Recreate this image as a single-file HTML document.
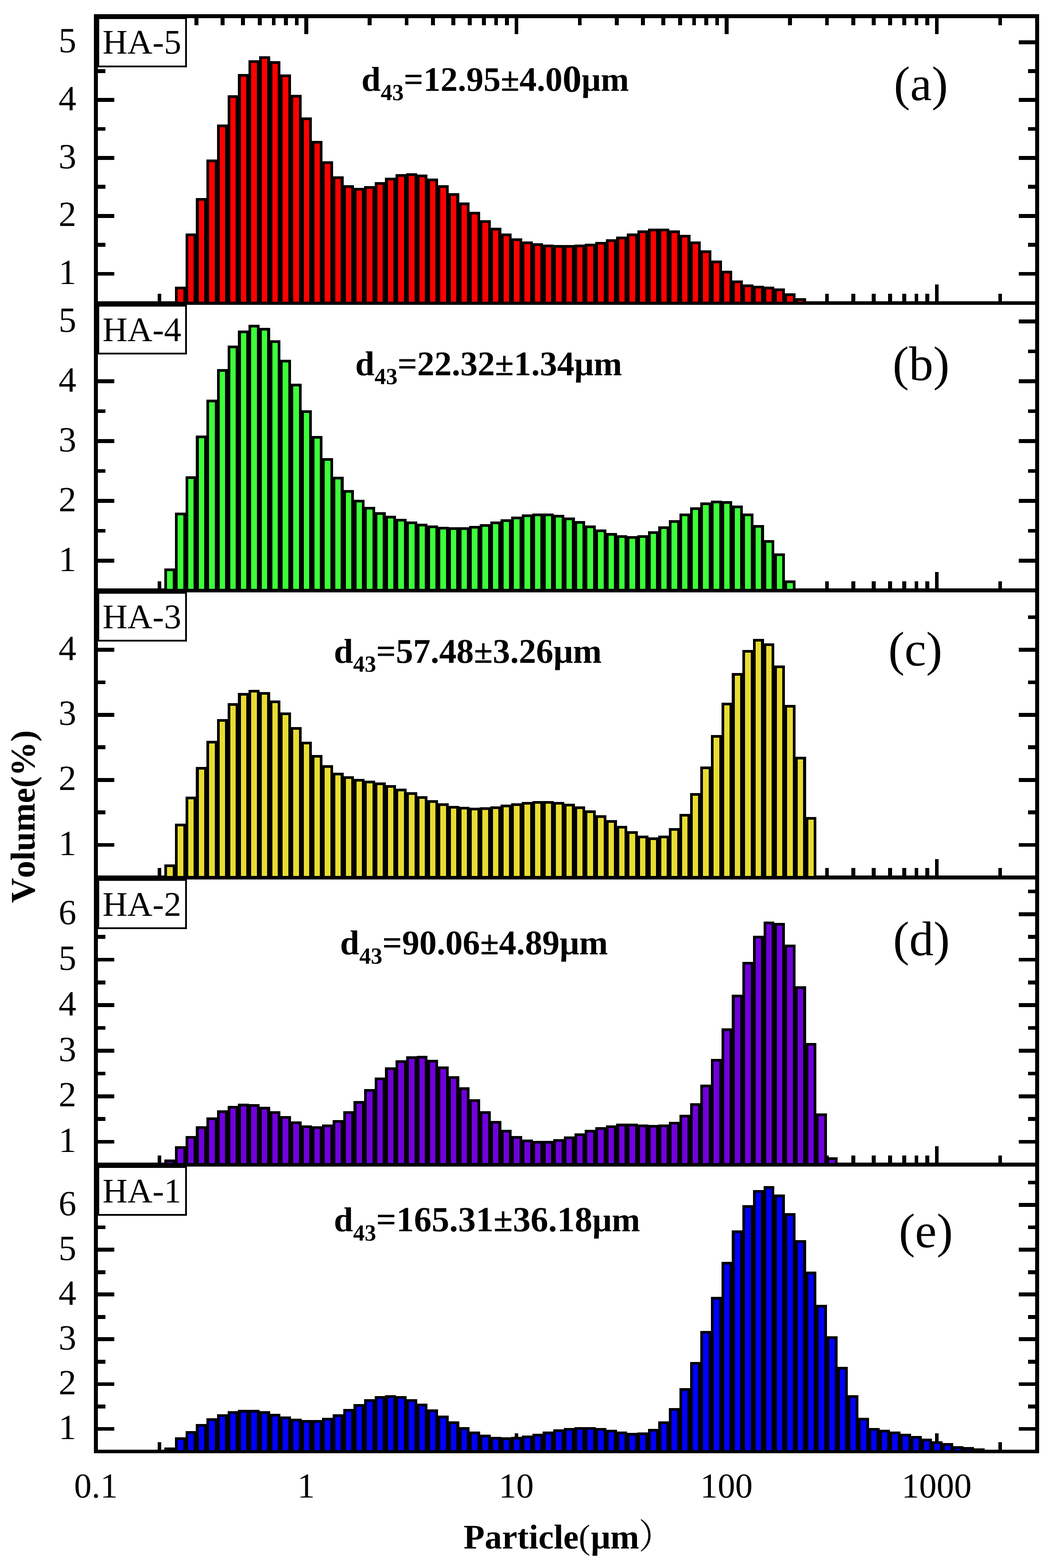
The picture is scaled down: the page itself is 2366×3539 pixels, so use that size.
<!DOCTYPE html>
<html lang="en">
<head>
<meta charset="utf-8">
<title>Particle size distribution</title>
<style>
html,body{margin:0;padding:0;background:#fff;}
body{width:2366px;height:3539px;overflow:hidden;}
svg{display:block;}
</style>
</head>
<body>
<svg width="2366" height="3539" viewBox="0 0 2366 3539" shape-rendering="crispEdges">
<rect x="0" y="0" width="2366" height="3539" fill="#fff"/>
<g id="ticks-behind">
<rect x="356" y="663" width="8" height="18"/>
<rect x="439" y="663" width="9" height="18"/>
<rect x="498" y="663" width="9" height="18"/>
<rect x="544" y="663" width="9" height="18"/>
<rect x="582" y="663" width="9" height="18"/>
<rect x="614" y="663" width="8" height="18"/>
<rect x="641" y="663" width="9" height="18"/>
<rect x="666" y="663" width="8" height="18"/>
<rect x="687" y="642" width="9" height="39"/>
<rect x="830" y="663" width="9" height="18"/>
<rect x="914" y="663" width="8" height="18"/>
<rect x="973" y="663" width="9" height="18"/>
<rect x="1019" y="663" width="9" height="18"/>
<rect x="1056" y="663" width="9" height="18"/>
<rect x="1088" y="663" width="9" height="18"/>
<rect x="1116" y="663" width="8" height="18"/>
<rect x="1140" y="663" width="9" height="18"/>
<rect x="1162" y="642" width="8" height="39"/>
<rect x="1305" y="663" width="8" height="18"/>
<rect x="1388" y="663" width="9" height="18"/>
<rect x="1447" y="663" width="9" height="18"/>
<rect x="1493" y="663" width="9" height="18"/>
<rect x="1531" y="663" width="9" height="18"/>
<rect x="1563" y="663" width="8" height="18"/>
<rect x="1590" y="663" width="9" height="18"/>
<rect x="1615" y="663" width="8" height="18"/>
<rect x="1636" y="642" width="9" height="39"/>
<rect x="1779" y="663" width="9" height="18"/>
<rect x="1863" y="663" width="8" height="18"/>
<rect x="1922" y="663" width="9" height="18"/>
<rect x="1968" y="663" width="9" height="18"/>
<rect x="2005" y="663" width="9" height="18"/>
<rect x="2037" y="663" width="9" height="18"/>
<rect x="2065" y="663" width="8" height="18"/>
<rect x="2089" y="663" width="9" height="18"/>
<rect x="2111" y="642" width="8" height="39"/>
<rect x="2254" y="663" width="8" height="18"/>
<rect x="356" y="1312" width="8" height="17"/>
<rect x="439" y="1312" width="9" height="17"/>
<rect x="498" y="1312" width="9" height="17"/>
<rect x="544" y="1312" width="9" height="17"/>
<rect x="582" y="1312" width="9" height="17"/>
<rect x="614" y="1312" width="8" height="17"/>
<rect x="641" y="1312" width="9" height="17"/>
<rect x="666" y="1312" width="8" height="17"/>
<rect x="687" y="1291" width="9" height="38"/>
<rect x="830" y="1312" width="9" height="17"/>
<rect x="914" y="1312" width="8" height="17"/>
<rect x="973" y="1312" width="9" height="17"/>
<rect x="1019" y="1312" width="9" height="17"/>
<rect x="1056" y="1312" width="9" height="17"/>
<rect x="1088" y="1312" width="9" height="17"/>
<rect x="1116" y="1312" width="8" height="17"/>
<rect x="1140" y="1312" width="9" height="17"/>
<rect x="1162" y="1291" width="8" height="38"/>
<rect x="1305" y="1312" width="8" height="17"/>
<rect x="1388" y="1312" width="9" height="17"/>
<rect x="1447" y="1312" width="9" height="17"/>
<rect x="1493" y="1312" width="9" height="17"/>
<rect x="1531" y="1312" width="9" height="17"/>
<rect x="1563" y="1312" width="8" height="17"/>
<rect x="1590" y="1312" width="9" height="17"/>
<rect x="1615" y="1312" width="8" height="17"/>
<rect x="1636" y="1291" width="9" height="38"/>
<rect x="1779" y="1312" width="9" height="17"/>
<rect x="1863" y="1312" width="8" height="17"/>
<rect x="1922" y="1312" width="9" height="17"/>
<rect x="1968" y="1312" width="9" height="17"/>
<rect x="2005" y="1312" width="9" height="17"/>
<rect x="2037" y="1312" width="9" height="17"/>
<rect x="2065" y="1312" width="8" height="17"/>
<rect x="2089" y="1312" width="9" height="17"/>
<rect x="2111" y="1291" width="8" height="38"/>
<rect x="2254" y="1312" width="8" height="17"/>
<rect x="356" y="1959" width="8" height="18"/>
<rect x="439" y="1959" width="9" height="18"/>
<rect x="498" y="1959" width="9" height="18"/>
<rect x="544" y="1959" width="9" height="18"/>
<rect x="582" y="1959" width="9" height="18"/>
<rect x="614" y="1959" width="8" height="18"/>
<rect x="641" y="1959" width="9" height="18"/>
<rect x="666" y="1959" width="8" height="18"/>
<rect x="687" y="1939" width="9" height="38"/>
<rect x="830" y="1959" width="9" height="18"/>
<rect x="914" y="1959" width="8" height="18"/>
<rect x="973" y="1959" width="9" height="18"/>
<rect x="1019" y="1959" width="9" height="18"/>
<rect x="1056" y="1959" width="9" height="18"/>
<rect x="1088" y="1959" width="9" height="18"/>
<rect x="1116" y="1959" width="8" height="18"/>
<rect x="1140" y="1959" width="9" height="18"/>
<rect x="1162" y="1939" width="8" height="38"/>
<rect x="1305" y="1959" width="8" height="18"/>
<rect x="1388" y="1959" width="9" height="18"/>
<rect x="1447" y="1959" width="9" height="18"/>
<rect x="1493" y="1959" width="9" height="18"/>
<rect x="1531" y="1959" width="9" height="18"/>
<rect x="1563" y="1959" width="8" height="18"/>
<rect x="1590" y="1959" width="9" height="18"/>
<rect x="1615" y="1959" width="8" height="18"/>
<rect x="1636" y="1939" width="9" height="38"/>
<rect x="1779" y="1959" width="9" height="18"/>
<rect x="1863" y="1959" width="8" height="18"/>
<rect x="1922" y="1959" width="9" height="18"/>
<rect x="1968" y="1959" width="9" height="18"/>
<rect x="2005" y="1959" width="9" height="18"/>
<rect x="2037" y="1959" width="9" height="18"/>
<rect x="2065" y="1959" width="8" height="18"/>
<rect x="2089" y="1959" width="9" height="18"/>
<rect x="2111" y="1939" width="8" height="38"/>
<rect x="2254" y="1959" width="8" height="18"/>
<rect x="356" y="2608" width="8" height="17"/>
<rect x="439" y="2608" width="9" height="17"/>
<rect x="498" y="2608" width="9" height="17"/>
<rect x="544" y="2608" width="9" height="17"/>
<rect x="582" y="2608" width="9" height="17"/>
<rect x="614" y="2608" width="8" height="17"/>
<rect x="641" y="2608" width="9" height="17"/>
<rect x="666" y="2608" width="8" height="17"/>
<rect x="687" y="2587" width="9" height="38"/>
<rect x="830" y="2608" width="9" height="17"/>
<rect x="914" y="2608" width="8" height="17"/>
<rect x="973" y="2608" width="9" height="17"/>
<rect x="1019" y="2608" width="9" height="17"/>
<rect x="1056" y="2608" width="9" height="17"/>
<rect x="1088" y="2608" width="9" height="17"/>
<rect x="1116" y="2608" width="8" height="17"/>
<rect x="1140" y="2608" width="9" height="17"/>
<rect x="1162" y="2587" width="8" height="38"/>
<rect x="1305" y="2608" width="8" height="17"/>
<rect x="1388" y="2608" width="9" height="17"/>
<rect x="1447" y="2608" width="9" height="17"/>
<rect x="1493" y="2608" width="9" height="17"/>
<rect x="1531" y="2608" width="9" height="17"/>
<rect x="1563" y="2608" width="8" height="17"/>
<rect x="1590" y="2608" width="9" height="17"/>
<rect x="1615" y="2608" width="8" height="17"/>
<rect x="1636" y="2587" width="9" height="38"/>
<rect x="1779" y="2608" width="9" height="17"/>
<rect x="1863" y="2608" width="8" height="17"/>
<rect x="1922" y="2608" width="9" height="17"/>
<rect x="1968" y="2608" width="9" height="17"/>
<rect x="2005" y="2608" width="9" height="17"/>
<rect x="2037" y="2608" width="9" height="17"/>
<rect x="2065" y="2608" width="8" height="17"/>
<rect x="2089" y="2608" width="9" height="17"/>
<rect x="2111" y="2587" width="8" height="38"/>
<rect x="2254" y="2608" width="8" height="17"/>
<rect x="356" y="3255" width="8" height="18"/>
<rect x="439" y="3255" width="9" height="18"/>
<rect x="498" y="3255" width="9" height="18"/>
<rect x="544" y="3255" width="9" height="18"/>
<rect x="582" y="3255" width="9" height="18"/>
<rect x="614" y="3255" width="8" height="18"/>
<rect x="641" y="3255" width="9" height="18"/>
<rect x="666" y="3255" width="8" height="18"/>
<rect x="687" y="3235" width="9" height="38"/>
<rect x="830" y="3255" width="9" height="18"/>
<rect x="914" y="3255" width="8" height="18"/>
<rect x="973" y="3255" width="9" height="18"/>
<rect x="1019" y="3255" width="9" height="18"/>
<rect x="1056" y="3255" width="9" height="18"/>
<rect x="1088" y="3255" width="9" height="18"/>
<rect x="1116" y="3255" width="8" height="18"/>
<rect x="1140" y="3255" width="9" height="18"/>
<rect x="1162" y="3235" width="8" height="38"/>
<rect x="1305" y="3255" width="8" height="18"/>
<rect x="1388" y="3255" width="9" height="18"/>
<rect x="1447" y="3255" width="9" height="18"/>
<rect x="1493" y="3255" width="9" height="18"/>
<rect x="1531" y="3255" width="9" height="18"/>
<rect x="1563" y="3255" width="8" height="18"/>
<rect x="1590" y="3255" width="9" height="18"/>
<rect x="1615" y="3255" width="8" height="18"/>
<rect x="1636" y="3235" width="9" height="38"/>
<rect x="1779" y="3255" width="9" height="18"/>
<rect x="1863" y="3255" width="8" height="18"/>
<rect x="1922" y="3255" width="9" height="18"/>
<rect x="1968" y="3255" width="9" height="18"/>
<rect x="2005" y="3255" width="9" height="18"/>
<rect x="2037" y="3255" width="9" height="18"/>
<rect x="2065" y="3255" width="8" height="18"/>
<rect x="2089" y="3255" width="9" height="18"/>
<rect x="2111" y="3235" width="8" height="38"/>
<rect x="2254" y="3255" width="8" height="18"/>
</g>
<g id="bars">
<g class="b">
<rect x="395" y="647" width="25" height="34"/>
<rect x="419" y="527" width="25" height="154"/>
<rect x="442" y="447" width="25" height="234"/>
<rect x="466" y="360" width="25" height="321"/>
<rect x="490" y="281" width="25" height="400"/>
<rect x="514" y="215" width="24" height="466"/>
<rect x="537" y="167" width="25" height="514"/>
<rect x="561" y="136" width="25" height="545"/>
<rect x="585" y="127" width="25" height="554"/>
<rect x="609" y="138" width="24" height="543"/>
<rect x="632" y="168" width="25" height="513"/>
<rect x="656" y="214" width="25" height="467"/>
<rect x="680" y="265" width="24" height="416"/>
<rect x="703" y="318" width="25" height="363"/>
<rect x="727" y="364" width="25" height="317"/>
<rect x="751" y="398" width="25" height="283"/>
<rect x="775" y="418" width="24" height="263"/>
<rect x="798" y="424" width="25" height="257"/>
<rect x="822" y="420" width="25" height="261"/>
<rect x="846" y="411" width="25" height="270"/>
<rect x="869" y="401" width="25" height="280"/>
<rect x="893" y="393" width="25" height="288"/>
<rect x="917" y="391" width="25" height="290"/>
<rect x="941" y="394" width="24" height="287"/>
<rect x="964" y="403" width="25" height="278"/>
<rect x="988" y="418" width="25" height="263"/>
<rect x="1012" y="436" width="25" height="245"/>
<rect x="1036" y="457" width="24" height="224"/>
<rect x="1059" y="478" width="25" height="203"/>
<rect x="1083" y="497" width="25" height="184"/>
<rect x="1107" y="514" width="25" height="167"/>
<rect x="1130" y="527" width="25" height="154"/>
<rect x="1154" y="538" width="25" height="143"/>
<rect x="1178" y="545" width="25" height="136"/>
<rect x="1202" y="549" width="24" height="132"/>
<rect x="1225" y="552" width="25" height="129"/>
<rect x="1249" y="553" width="25" height="128"/>
<rect x="1273" y="553" width="25" height="128"/>
<rect x="1297" y="552" width="24" height="129"/>
<rect x="1320" y="550" width="25" height="131"/>
<rect x="1344" y="546" width="25" height="135"/>
<rect x="1368" y="540" width="25" height="141"/>
<rect x="1391" y="534" width="25" height="147"/>
<rect x="1415" y="527" width="25" height="154"/>
<rect x="1439" y="520" width="25" height="161"/>
<rect x="1463" y="516" width="24" height="165"/>
<rect x="1486" y="516" width="25" height="165"/>
<rect x="1510" y="520" width="25" height="161"/>
<rect x="1534" y="530" width="25" height="151"/>
<rect x="1558" y="545" width="24" height="136"/>
<rect x="1581" y="565" width="25" height="116"/>
<rect x="1605" y="588" width="25" height="93"/>
<rect x="1629" y="611" width="24" height="70"/>
<rect x="1652" y="633" width="25" height="48"/>
<rect x="1676" y="642" width="25" height="39"/>
<rect x="1700" y="645" width="25" height="36"/>
<rect x="1724" y="647" width="24" height="34"/>
<rect x="1747" y="651" width="25" height="30"/>
<rect x="1771" y="662" width="25" height="19"/>
<rect x="1795" y="673" width="25" height="8"/>
</g>
<g class="b">
<rect x="371" y="1283" width="25" height="46"/>
<rect x="395" y="1157" width="25" height="172"/>
<rect x="419" y="1075" width="25" height="254"/>
<rect x="442" y="983" width="25" height="346"/>
<rect x="466" y="902" width="25" height="427"/>
<rect x="490" y="833" width="25" height="496"/>
<rect x="514" y="780" width="24" height="549"/>
<rect x="537" y="746" width="25" height="583"/>
<rect x="561" y="733" width="25" height="596"/>
<rect x="585" y="740" width="25" height="589"/>
<rect x="609" y="768" width="24" height="561"/>
<rect x="632" y="812" width="25" height="517"/>
<rect x="656" y="866" width="25" height="463"/>
<rect x="680" y="926" width="24" height="403"/>
<rect x="703" y="984" width="25" height="345"/>
<rect x="727" y="1034" width="25" height="295"/>
<rect x="751" y="1076" width="25" height="253"/>
<rect x="775" y="1106" width="24" height="223"/>
<rect x="798" y="1128" width="25" height="201"/>
<rect x="822" y="1144" width="25" height="185"/>
<rect x="846" y="1156" width="25" height="173"/>
<rect x="869" y="1164" width="25" height="165"/>
<rect x="893" y="1171" width="25" height="158"/>
<rect x="917" y="1177" width="25" height="152"/>
<rect x="941" y="1182" width="24" height="147"/>
<rect x="964" y="1186" width="25" height="143"/>
<rect x="988" y="1189" width="25" height="140"/>
<rect x="1012" y="1190" width="25" height="139"/>
<rect x="1036" y="1190" width="24" height="139"/>
<rect x="1059" y="1187" width="25" height="142"/>
<rect x="1083" y="1183" width="25" height="146"/>
<rect x="1107" y="1177" width="25" height="152"/>
<rect x="1130" y="1172" width="25" height="157"/>
<rect x="1154" y="1166" width="25" height="163"/>
<rect x="1178" y="1161" width="25" height="168"/>
<rect x="1202" y="1159" width="24" height="170"/>
<rect x="1225" y="1159" width="25" height="170"/>
<rect x="1249" y="1162" width="25" height="167"/>
<rect x="1273" y="1168" width="25" height="161"/>
<rect x="1297" y="1176" width="24" height="153"/>
<rect x="1320" y="1186" width="25" height="143"/>
<rect x="1344" y="1195" width="25" height="134"/>
<rect x="1368" y="1203" width="25" height="126"/>
<rect x="1391" y="1208" width="25" height="121"/>
<rect x="1415" y="1210" width="25" height="119"/>
<rect x="1439" y="1208" width="25" height="121"/>
<rect x="1463" y="1199" width="24" height="130"/>
<rect x="1486" y="1188" width="25" height="141"/>
<rect x="1510" y="1174" width="25" height="155"/>
<rect x="1534" y="1159" width="25" height="170"/>
<rect x="1558" y="1145" width="24" height="184"/>
<rect x="1581" y="1134" width="25" height="195"/>
<rect x="1605" y="1130" width="25" height="199"/>
<rect x="1629" y="1131" width="24" height="198"/>
<rect x="1652" y="1141" width="25" height="188"/>
<rect x="1676" y="1159" width="25" height="170"/>
<rect x="1700" y="1185" width="25" height="144"/>
<rect x="1724" y="1219" width="24" height="110"/>
<rect x="1747" y="1249" width="25" height="80"/>
<rect x="1771" y="1310" width="25" height="19"/>
</g>
<g class="b">
<rect x="371" y="1951" width="25" height="26"/>
<rect x="395" y="1859" width="25" height="118"/>
<rect x="419" y="1798" width="25" height="179"/>
<rect x="442" y="1731" width="25" height="246"/>
<rect x="466" y="1672" width="25" height="305"/>
<rect x="490" y="1623" width="25" height="354"/>
<rect x="514" y="1587" width="24" height="390"/>
<rect x="537" y="1564" width="25" height="413"/>
<rect x="561" y="1557" width="25" height="420"/>
<rect x="585" y="1562" width="25" height="415"/>
<rect x="609" y="1581" width="24" height="396"/>
<rect x="632" y="1608" width="25" height="369"/>
<rect x="656" y="1641" width="25" height="336"/>
<rect x="680" y="1674" width="24" height="303"/>
<rect x="703" y="1704" width="25" height="273"/>
<rect x="727" y="1727" width="25" height="250"/>
<rect x="751" y="1744" width="25" height="233"/>
<rect x="775" y="1752" width="24" height="225"/>
<rect x="798" y="1758" width="25" height="219"/>
<rect x="822" y="1762" width="25" height="215"/>
<rect x="846" y="1766" width="25" height="211"/>
<rect x="869" y="1772" width="25" height="205"/>
<rect x="893" y="1780" width="25" height="197"/>
<rect x="917" y="1788" width="25" height="189"/>
<rect x="941" y="1797" width="24" height="180"/>
<rect x="964" y="1806" width="25" height="171"/>
<rect x="988" y="1813" width="25" height="164"/>
<rect x="1012" y="1819" width="25" height="158"/>
<rect x="1036" y="1821" width="24" height="156"/>
<rect x="1059" y="1823" width="25" height="154"/>
<rect x="1083" y="1822" width="25" height="155"/>
<rect x="1107" y="1820" width="25" height="157"/>
<rect x="1130" y="1816" width="25" height="161"/>
<rect x="1154" y="1813" width="25" height="164"/>
<rect x="1178" y="1810" width="25" height="167"/>
<rect x="1202" y="1808" width="24" height="169"/>
<rect x="1225" y="1808" width="25" height="169"/>
<rect x="1249" y="1810" width="25" height="167"/>
<rect x="1273" y="1814" width="25" height="163"/>
<rect x="1297" y="1820" width="24" height="157"/>
<rect x="1320" y="1829" width="25" height="148"/>
<rect x="1344" y="1840" width="25" height="137"/>
<rect x="1368" y="1851" width="25" height="126"/>
<rect x="1391" y="1864" width="25" height="113"/>
<rect x="1415" y="1876" width="25" height="101"/>
<rect x="1439" y="1886" width="25" height="91"/>
<rect x="1463" y="1890" width="24" height="87"/>
<rect x="1486" y="1886" width="25" height="91"/>
<rect x="1510" y="1869" width="25" height="108"/>
<rect x="1534" y="1837" width="25" height="140"/>
<rect x="1558" y="1790" width="24" height="187"/>
<rect x="1581" y="1730" width="25" height="247"/>
<rect x="1605" y="1659" width="25" height="318"/>
<rect x="1629" y="1586" width="24" height="391"/>
<rect x="1652" y="1519" width="25" height="458"/>
<rect x="1676" y="1467" width="25" height="510"/>
<rect x="1700" y="1442" width="25" height="535"/>
<rect x="1724" y="1452" width="24" height="525"/>
<rect x="1747" y="1502" width="25" height="475"/>
<rect x="1771" y="1591" width="25" height="386"/>
<rect x="1795" y="1708" width="25" height="269"/>
<rect x="1818" y="1844" width="25" height="133"/>
</g>
<g class="b">
<rect x="371" y="2617" width="25" height="8"/>
<rect x="395" y="2587" width="25" height="38"/>
<rect x="419" y="2564" width="25" height="61"/>
<rect x="442" y="2542" width="25" height="83"/>
<rect x="466" y="2522" width="25" height="103"/>
<rect x="490" y="2506" width="25" height="119"/>
<rect x="514" y="2496" width="24" height="129"/>
<rect x="537" y="2491" width="25" height="134"/>
<rect x="561" y="2492" width="25" height="133"/>
<rect x="585" y="2498" width="25" height="127"/>
<rect x="609" y="2508" width="24" height="117"/>
<rect x="632" y="2519" width="25" height="106"/>
<rect x="656" y="2531" width="25" height="94"/>
<rect x="680" y="2540" width="24" height="85"/>
<rect x="703" y="2542" width="25" height="83"/>
<rect x="727" y="2538" width="25" height="87"/>
<rect x="751" y="2528" width="25" height="97"/>
<rect x="775" y="2508" width="24" height="117"/>
<rect x="798" y="2485" width="25" height="140"/>
<rect x="822" y="2458" width="25" height="167"/>
<rect x="846" y="2432" width="25" height="193"/>
<rect x="869" y="2409" width="25" height="216"/>
<rect x="893" y="2393" width="25" height="232"/>
<rect x="917" y="2384" width="25" height="241"/>
<rect x="941" y="2383" width="24" height="242"/>
<rect x="964" y="2392" width="25" height="233"/>
<rect x="988" y="2407" width="25" height="218"/>
<rect x="1012" y="2429" width="25" height="196"/>
<rect x="1036" y="2454" width="24" height="171"/>
<rect x="1059" y="2481" width="25" height="144"/>
<rect x="1083" y="2508" width="25" height="117"/>
<rect x="1107" y="2530" width="25" height="95"/>
<rect x="1130" y="2550" width="25" height="75"/>
<rect x="1154" y="2564" width="25" height="61"/>
<rect x="1178" y="2572" width="25" height="53"/>
<rect x="1202" y="2575" width="24" height="50"/>
<rect x="1225" y="2575" width="25" height="50"/>
<rect x="1249" y="2571" width="25" height="54"/>
<rect x="1273" y="2565" width="25" height="60"/>
<rect x="1297" y="2558" width="24" height="67"/>
<rect x="1320" y="2550" width="25" height="75"/>
<rect x="1344" y="2544" width="25" height="81"/>
<rect x="1368" y="2540" width="25" height="85"/>
<rect x="1391" y="2536" width="25" height="89"/>
<rect x="1415" y="2536" width="25" height="89"/>
<rect x="1439" y="2538" width="25" height="87"/>
<rect x="1463" y="2539" width="24" height="86"/>
<rect x="1486" y="2538" width="25" height="87"/>
<rect x="1510" y="2532" width="25" height="93"/>
<rect x="1534" y="2516" width="25" height="109"/>
<rect x="1558" y="2490" width="24" height="135"/>
<rect x="1581" y="2448" width="25" height="177"/>
<rect x="1605" y="2390" width="25" height="235"/>
<rect x="1629" y="2321" width="24" height="304"/>
<rect x="1652" y="2245" width="25" height="380"/>
<rect x="1676" y="2171" width="25" height="454"/>
<rect x="1700" y="2112" width="25" height="513"/>
<rect x="1724" y="2080" width="24" height="545"/>
<rect x="1747" y="2083" width="25" height="542"/>
<rect x="1771" y="2132" width="25" height="493"/>
<rect x="1795" y="2226" width="25" height="399"/>
<rect x="1818" y="2354" width="25" height="271"/>
<rect x="1842" y="2513" width="25" height="112"/>
<rect x="1866" y="2612" width="25" height="13"/>
</g>
<g class="b">
<rect x="371" y="3267" width="25" height="6"/>
<rect x="395" y="3244" width="25" height="29"/>
<rect x="419" y="3230" width="25" height="43"/>
<rect x="442" y="3214" width="25" height="59"/>
<rect x="466" y="3201" width="25" height="72"/>
<rect x="490" y="3192" width="25" height="81"/>
<rect x="514" y="3185" width="24" height="88"/>
<rect x="537" y="3182" width="25" height="91"/>
<rect x="561" y="3182" width="25" height="91"/>
<rect x="585" y="3185" width="25" height="88"/>
<rect x="609" y="3191" width="24" height="82"/>
<rect x="632" y="3197" width="25" height="76"/>
<rect x="656" y="3202" width="25" height="71"/>
<rect x="680" y="3205" width="24" height="68"/>
<rect x="703" y="3205" width="25" height="68"/>
<rect x="727" y="3200" width="25" height="73"/>
<rect x="751" y="3192" width="25" height="81"/>
<rect x="775" y="3180" width="24" height="93"/>
<rect x="798" y="3169" width="25" height="104"/>
<rect x="822" y="3158" width="25" height="115"/>
<rect x="846" y="3151" width="25" height="122"/>
<rect x="869" y="3149" width="25" height="124"/>
<rect x="893" y="3151" width="25" height="122"/>
<rect x="917" y="3158" width="25" height="115"/>
<rect x="941" y="3168" width="24" height="105"/>
<rect x="964" y="3181" width="25" height="92"/>
<rect x="988" y="3195" width="25" height="78"/>
<rect x="1012" y="3208" width="25" height="65"/>
<rect x="1036" y="3221" width="24" height="52"/>
<rect x="1059" y="3231" width="25" height="42"/>
<rect x="1083" y="3238" width="25" height="35"/>
<rect x="1107" y="3243" width="25" height="30"/>
<rect x="1130" y="3244" width="25" height="29"/>
<rect x="1154" y="3243" width="25" height="30"/>
<rect x="1178" y="3240" width="25" height="33"/>
<rect x="1202" y="3236" width="24" height="37"/>
<rect x="1225" y="3231" width="25" height="42"/>
<rect x="1249" y="3226" width="25" height="47"/>
<rect x="1273" y="3223" width="25" height="50"/>
<rect x="1297" y="3221" width="24" height="52"/>
<rect x="1320" y="3221" width="25" height="52"/>
<rect x="1344" y="3223" width="25" height="50"/>
<rect x="1368" y="3227" width="25" height="46"/>
<rect x="1391" y="3231" width="25" height="42"/>
<rect x="1415" y="3234" width="25" height="39"/>
<rect x="1439" y="3233" width="25" height="40"/>
<rect x="1463" y="3225" width="24" height="48"/>
<rect x="1486" y="3208" width="25" height="65"/>
<rect x="1510" y="3178" width="25" height="95"/>
<rect x="1534" y="3133" width="25" height="140"/>
<rect x="1558" y="3074" width="24" height="199"/>
<rect x="1581" y="3004" width="25" height="269"/>
<rect x="1605" y="2927" width="25" height="346"/>
<rect x="1629" y="2848" width="24" height="425"/>
<rect x="1652" y="2777" width="25" height="496"/>
<rect x="1676" y="2720" width="25" height="553"/>
<rect x="1700" y="2686" width="25" height="587"/>
<rect x="1724" y="2677" width="24" height="596"/>
<rect x="1747" y="2696" width="25" height="577"/>
<rect x="1771" y="2738" width="25" height="535"/>
<rect x="1795" y="2799" width="25" height="474"/>
<rect x="1818" y="2870" width="25" height="403"/>
<rect x="1842" y="2945" width="25" height="328"/>
<rect x="1866" y="3016" width="25" height="257"/>
<rect x="1890" y="3085" width="24" height="188"/>
<rect x="1913" y="3149" width="25" height="124"/>
<rect x="1937" y="3200" width="25" height="73"/>
<rect x="1961" y="3223" width="25" height="50"/>
<rect x="1985" y="3227" width="24" height="46"/>
<rect x="2008" y="3231" width="25" height="42"/>
<rect x="2032" y="3236" width="25" height="37"/>
<rect x="2056" y="3241" width="25" height="32"/>
<rect x="2079" y="3247" width="25" height="26"/>
<rect x="2103" y="3253" width="25" height="20"/>
<rect x="2127" y="3257" width="25" height="16"/>
<rect x="2151" y="3264" width="24" height="9"/>
<rect x="2174" y="3266" width="25" height="7"/>
<rect x="2198" y="3269" width="25" height="4"/>
</g>
</g>
<g id="axes">
<rect x="212" y="32" width="9" height="3248"/>
<rect x="2337" y="32" width="9" height="3248"/>
<rect x="212" y="32" width="2134" height="9"/>
<rect x="212" y="680" width="2134" height="8"/>
<rect x="212" y="1328" width="2134" height="9"/>
<rect x="212" y="1976" width="2134" height="9"/>
<rect x="212" y="2624" width="2134" height="9"/>
<rect x="212" y="3272" width="2134" height="8"/>
<rect x="221" y="614" width="37" height="8"/>
<rect x="2300" y="614" width="37" height="8"/>
<rect x="221" y="548" width="17" height="9"/>
<rect x="2321" y="548" width="16" height="9"/>
<rect x="221" y="483" width="37" height="9"/>
<rect x="2300" y="483" width="37" height="9"/>
<rect x="221" y="417" width="17" height="9"/>
<rect x="2321" y="417" width="16" height="9"/>
<rect x="221" y="352" width="37" height="9"/>
<rect x="2300" y="352" width="37" height="9"/>
<rect x="221" y="287" width="17" height="8"/>
<rect x="2321" y="287" width="16" height="8"/>
<rect x="221" y="221" width="37" height="9"/>
<rect x="2300" y="221" width="37" height="9"/>
<rect x="221" y="156" width="17" height="9"/>
<rect x="2321" y="156" width="16" height="9"/>
<rect x="221" y="91" width="37" height="9"/>
<rect x="2300" y="91" width="37" height="9"/>
<rect x="221" y="1261" width="37" height="9"/>
<rect x="2300" y="1261" width="37" height="9"/>
<rect x="221" y="1194" width="17" height="8"/>
<rect x="2321" y="1194" width="16" height="8"/>
<rect x="221" y="1126" width="37" height="9"/>
<rect x="2300" y="1126" width="37" height="9"/>
<rect x="221" y="1059" width="17" height="8"/>
<rect x="2321" y="1059" width="16" height="8"/>
<rect x="221" y="991" width="37" height="9"/>
<rect x="2300" y="991" width="37" height="9"/>
<rect x="221" y="924" width="17" height="8"/>
<rect x="2321" y="924" width="16" height="8"/>
<rect x="221" y="856" width="37" height="9"/>
<rect x="2300" y="856" width="37" height="9"/>
<rect x="221" y="789" width="17" height="8"/>
<rect x="2321" y="789" width="16" height="8"/>
<rect x="221" y="721" width="37" height="9"/>
<rect x="2300" y="721" width="37" height="9"/>
<rect x="221" y="1903" width="37" height="8"/>
<rect x="2300" y="1903" width="37" height="8"/>
<rect x="221" y="1829" width="17" height="9"/>
<rect x="2321" y="1829" width="16" height="9"/>
<rect x="221" y="1756" width="37" height="9"/>
<rect x="2300" y="1756" width="37" height="9"/>
<rect x="221" y="1682" width="17" height="9"/>
<rect x="2321" y="1682" width="16" height="9"/>
<rect x="221" y="1609" width="37" height="9"/>
<rect x="2300" y="1609" width="37" height="9"/>
<rect x="221" y="1536" width="17" height="8"/>
<rect x="2321" y="1536" width="16" height="8"/>
<rect x="221" y="1462" width="37" height="9"/>
<rect x="2300" y="1462" width="37" height="9"/>
<rect x="221" y="1389" width="17" height="8"/>
<rect x="2321" y="1389" width="16" height="8"/>
<rect x="221" y="2573" width="37" height="8"/>
<rect x="2300" y="2573" width="37" height="8"/>
<rect x="221" y="2521" width="17" height="9"/>
<rect x="2321" y="2521" width="16" height="9"/>
<rect x="221" y="2470" width="37" height="9"/>
<rect x="2300" y="2470" width="37" height="9"/>
<rect x="221" y="2419" width="17" height="8"/>
<rect x="2321" y="2419" width="16" height="8"/>
<rect x="221" y="2367" width="37" height="9"/>
<rect x="2300" y="2367" width="37" height="9"/>
<rect x="221" y="2316" width="17" height="8"/>
<rect x="2321" y="2316" width="16" height="8"/>
<rect x="221" y="2264" width="37" height="9"/>
<rect x="2300" y="2264" width="37" height="9"/>
<rect x="221" y="2213" width="17" height="9"/>
<rect x="2321" y="2213" width="16" height="9"/>
<rect x="221" y="2162" width="37" height="8"/>
<rect x="2300" y="2162" width="37" height="8"/>
<rect x="221" y="2110" width="17" height="9"/>
<rect x="2321" y="2110" width="16" height="9"/>
<rect x="221" y="2059" width="37" height="9"/>
<rect x="2300" y="2059" width="37" height="9"/>
<rect x="221" y="2008" width="17" height="8"/>
<rect x="2321" y="2008" width="16" height="8"/>
<rect x="221" y="3221" width="37" height="8"/>
<rect x="2300" y="3221" width="37" height="8"/>
<rect x="221" y="3170" width="17" height="9"/>
<rect x="2321" y="3170" width="16" height="9"/>
<rect x="221" y="3120" width="37" height="8"/>
<rect x="2300" y="3120" width="37" height="8"/>
<rect x="221" y="3069" width="17" height="9"/>
<rect x="2321" y="3069" width="16" height="9"/>
<rect x="221" y="3018" width="37" height="9"/>
<rect x="2300" y="3018" width="37" height="9"/>
<rect x="221" y="2968" width="17" height="9"/>
<rect x="2321" y="2968" width="16" height="9"/>
<rect x="221" y="2917" width="37" height="9"/>
<rect x="2300" y="2917" width="37" height="9"/>
<rect x="221" y="2867" width="17" height="9"/>
<rect x="2321" y="2867" width="16" height="9"/>
<rect x="221" y="2816" width="37" height="9"/>
<rect x="2300" y="2816" width="37" height="9"/>
<rect x="221" y="2766" width="17" height="8"/>
<rect x="2321" y="2766" width="16" height="8"/>
<rect x="221" y="2715" width="37" height="9"/>
<rect x="2300" y="2715" width="37" height="9"/>
<rect x="221" y="2665" width="17" height="8"/>
<rect x="2321" y="2665" width="16" height="8"/>
<rect x="356" y="41" width="8" height="16"/>
<rect x="439" y="41" width="9" height="16"/>
<rect x="498" y="41" width="9" height="16"/>
<rect x="544" y="41" width="9" height="16"/>
<rect x="582" y="41" width="9" height="16"/>
<rect x="614" y="41" width="8" height="16"/>
<rect x="641" y="41" width="9" height="16"/>
<rect x="666" y="41" width="8" height="16"/>
<rect x="687" y="41" width="9" height="36"/>
<rect x="830" y="41" width="9" height="16"/>
<rect x="914" y="41" width="8" height="16"/>
<rect x="973" y="41" width="9" height="16"/>
<rect x="1019" y="41" width="9" height="16"/>
<rect x="1056" y="41" width="9" height="16"/>
<rect x="1088" y="41" width="9" height="16"/>
<rect x="1116" y="41" width="8" height="16"/>
<rect x="1140" y="41" width="9" height="16"/>
<rect x="1162" y="41" width="8" height="36"/>
<rect x="1305" y="41" width="8" height="16"/>
<rect x="1388" y="41" width="9" height="16"/>
<rect x="1447" y="41" width="9" height="16"/>
<rect x="1493" y="41" width="9" height="16"/>
<rect x="1531" y="41" width="9" height="16"/>
<rect x="1563" y="41" width="8" height="16"/>
<rect x="1590" y="41" width="9" height="16"/>
<rect x="1615" y="41" width="8" height="16"/>
<rect x="1636" y="41" width="9" height="36"/>
<rect x="1779" y="41" width="9" height="16"/>
<rect x="1863" y="41" width="8" height="16"/>
<rect x="1922" y="41" width="9" height="16"/>
<rect x="1968" y="41" width="9" height="16"/>
<rect x="2005" y="41" width="9" height="16"/>
<rect x="2037" y="41" width="9" height="16"/>
<rect x="2065" y="41" width="8" height="16"/>
<rect x="2089" y="41" width="9" height="16"/>
<rect x="2111" y="41" width="8" height="36"/>
<rect x="2254" y="41" width="8" height="16"/>
</g>
<g id="fills">
<g fill="#ff0000">
<rect x="401" y="653" width="13" height="28"/>
<rect x="425" y="533" width="12" height="148"/>
<rect x="449" y="453" width="12" height="228"/>
<rect x="472" y="366" width="13" height="315"/>
<rect x="496" y="287" width="12" height="394"/>
<rect x="520" y="221" width="12" height="460"/>
<rect x="544" y="173" width="12" height="508"/>
<rect x="567" y="142" width="13" height="539"/>
<rect x="591" y="133" width="12" height="548"/>
<rect x="615" y="144" width="12" height="537"/>
<rect x="638" y="174" width="13" height="507"/>
<rect x="662" y="220" width="13" height="461"/>
<rect x="686" y="271" width="12" height="410"/>
<rect x="710" y="324" width="12" height="357"/>
<rect x="733" y="370" width="13" height="311"/>
<rect x="757" y="404" width="12" height="277"/>
<rect x="781" y="424" width="12" height="257"/>
<rect x="805" y="430" width="12" height="251"/>
<rect x="828" y="426" width="13" height="255"/>
<rect x="852" y="417" width="12" height="264"/>
<rect x="876" y="407" width="12" height="274"/>
<rect x="899" y="399" width="13" height="282"/>
<rect x="923" y="397" width="13" height="284"/>
<rect x="947" y="400" width="12" height="281"/>
<rect x="971" y="409" width="12" height="272"/>
<rect x="994" y="424" width="13" height="257"/>
<rect x="1018" y="442" width="12" height="239"/>
<rect x="1042" y="463" width="12" height="218"/>
<rect x="1065" y="484" width="13" height="197"/>
<rect x="1089" y="503" width="13" height="178"/>
<rect x="1113" y="520" width="12" height="161"/>
<rect x="1137" y="533" width="12" height="148"/>
<rect x="1160" y="544" width="13" height="137"/>
<rect x="1184" y="551" width="13" height="130"/>
<rect x="1208" y="555" width="12" height="126"/>
<rect x="1232" y="558" width="12" height="123"/>
<rect x="1255" y="559" width="13" height="122"/>
<rect x="1279" y="559" width="12" height="122"/>
<rect x="1303" y="558" width="12" height="123"/>
<rect x="1326" y="556" width="13" height="125"/>
<rect x="1350" y="552" width="13" height="129"/>
<rect x="1374" y="546" width="12" height="135"/>
<rect x="1398" y="540" width="12" height="141"/>
<rect x="1421" y="533" width="13" height="148"/>
<rect x="1445" y="526" width="12" height="155"/>
<rect x="1469" y="522" width="12" height="159"/>
<rect x="1493" y="522" width="12" height="159"/>
<rect x="1516" y="526" width="13" height="155"/>
<rect x="1540" y="536" width="12" height="145"/>
<rect x="1564" y="551" width="12" height="130"/>
<rect x="1587" y="571" width="13" height="110"/>
<rect x="1611" y="594" width="13" height="87"/>
<rect x="1635" y="617" width="12" height="64"/>
<rect x="1659" y="639" width="12" height="42"/>
<rect x="1682" y="648" width="13" height="33"/>
<rect x="1706" y="651" width="12" height="30"/>
<rect x="1730" y="653" width="12" height="28"/>
<rect x="1754" y="657" width="12" height="24"/>
<rect x="1777" y="668" width="13" height="13"/>
<rect x="1801" y="679" width="12" height="2"/>
</g>
<g fill="#3cff3a">
<rect x="377" y="1289" width="13" height="40"/>
<rect x="401" y="1163" width="13" height="166"/>
<rect x="425" y="1081" width="12" height="248"/>
<rect x="449" y="989" width="12" height="340"/>
<rect x="472" y="908" width="13" height="421"/>
<rect x="496" y="839" width="12" height="490"/>
<rect x="520" y="786" width="12" height="543"/>
<rect x="544" y="752" width="12" height="577"/>
<rect x="567" y="739" width="13" height="590"/>
<rect x="591" y="746" width="12" height="583"/>
<rect x="615" y="774" width="12" height="555"/>
<rect x="638" y="818" width="13" height="511"/>
<rect x="662" y="872" width="13" height="457"/>
<rect x="686" y="932" width="12" height="397"/>
<rect x="710" y="990" width="12" height="339"/>
<rect x="733" y="1040" width="13" height="289"/>
<rect x="757" y="1082" width="12" height="247"/>
<rect x="781" y="1112" width="12" height="217"/>
<rect x="805" y="1134" width="12" height="195"/>
<rect x="828" y="1150" width="13" height="179"/>
<rect x="852" y="1162" width="12" height="167"/>
<rect x="876" y="1170" width="12" height="159"/>
<rect x="899" y="1177" width="13" height="152"/>
<rect x="923" y="1183" width="13" height="146"/>
<rect x="947" y="1188" width="12" height="141"/>
<rect x="971" y="1192" width="12" height="137"/>
<rect x="994" y="1195" width="13" height="134"/>
<rect x="1018" y="1196" width="12" height="133"/>
<rect x="1042" y="1196" width="12" height="133"/>
<rect x="1065" y="1193" width="13" height="136"/>
<rect x="1089" y="1189" width="13" height="140"/>
<rect x="1113" y="1183" width="12" height="146"/>
<rect x="1137" y="1178" width="12" height="151"/>
<rect x="1160" y="1172" width="13" height="157"/>
<rect x="1184" y="1167" width="13" height="162"/>
<rect x="1208" y="1165" width="12" height="164"/>
<rect x="1232" y="1165" width="12" height="164"/>
<rect x="1255" y="1168" width="13" height="161"/>
<rect x="1279" y="1174" width="12" height="155"/>
<rect x="1303" y="1182" width="12" height="147"/>
<rect x="1326" y="1192" width="13" height="137"/>
<rect x="1350" y="1201" width="13" height="128"/>
<rect x="1374" y="1209" width="12" height="120"/>
<rect x="1398" y="1214" width="12" height="115"/>
<rect x="1421" y="1216" width="13" height="113"/>
<rect x="1445" y="1214" width="12" height="115"/>
<rect x="1469" y="1205" width="12" height="124"/>
<rect x="1493" y="1194" width="12" height="135"/>
<rect x="1516" y="1180" width="13" height="149"/>
<rect x="1540" y="1165" width="12" height="164"/>
<rect x="1564" y="1151" width="12" height="178"/>
<rect x="1587" y="1140" width="13" height="189"/>
<rect x="1611" y="1136" width="13" height="193"/>
<rect x="1635" y="1137" width="12" height="192"/>
<rect x="1659" y="1147" width="12" height="182"/>
<rect x="1682" y="1165" width="13" height="164"/>
<rect x="1706" y="1191" width="12" height="138"/>
<rect x="1730" y="1225" width="12" height="104"/>
<rect x="1754" y="1255" width="12" height="74"/>
<rect x="1777" y="1316" width="13" height="13"/>
</g>
<g fill="#e8dc32">
<rect x="377" y="1957" width="13" height="20"/>
<rect x="401" y="1865" width="13" height="112"/>
<rect x="425" y="1804" width="12" height="173"/>
<rect x="449" y="1737" width="12" height="240"/>
<rect x="472" y="1678" width="13" height="299"/>
<rect x="496" y="1629" width="12" height="348"/>
<rect x="520" y="1593" width="12" height="384"/>
<rect x="544" y="1570" width="12" height="407"/>
<rect x="567" y="1563" width="13" height="414"/>
<rect x="591" y="1568" width="12" height="409"/>
<rect x="615" y="1587" width="12" height="390"/>
<rect x="638" y="1614" width="13" height="363"/>
<rect x="662" y="1647" width="13" height="330"/>
<rect x="686" y="1680" width="12" height="297"/>
<rect x="710" y="1710" width="12" height="267"/>
<rect x="733" y="1733" width="13" height="244"/>
<rect x="757" y="1750" width="12" height="227"/>
<rect x="781" y="1758" width="12" height="219"/>
<rect x="805" y="1764" width="12" height="213"/>
<rect x="828" y="1768" width="13" height="209"/>
<rect x="852" y="1772" width="12" height="205"/>
<rect x="876" y="1778" width="12" height="199"/>
<rect x="899" y="1786" width="13" height="191"/>
<rect x="923" y="1794" width="13" height="183"/>
<rect x="947" y="1803" width="12" height="174"/>
<rect x="971" y="1812" width="12" height="165"/>
<rect x="994" y="1819" width="13" height="158"/>
<rect x="1018" y="1825" width="12" height="152"/>
<rect x="1042" y="1827" width="12" height="150"/>
<rect x="1065" y="1829" width="13" height="148"/>
<rect x="1089" y="1828" width="13" height="149"/>
<rect x="1113" y="1826" width="12" height="151"/>
<rect x="1137" y="1822" width="12" height="155"/>
<rect x="1160" y="1819" width="13" height="158"/>
<rect x="1184" y="1816" width="13" height="161"/>
<rect x="1208" y="1814" width="12" height="163"/>
<rect x="1232" y="1814" width="12" height="163"/>
<rect x="1255" y="1816" width="13" height="161"/>
<rect x="1279" y="1820" width="12" height="157"/>
<rect x="1303" y="1826" width="12" height="151"/>
<rect x="1326" y="1835" width="13" height="142"/>
<rect x="1350" y="1846" width="13" height="131"/>
<rect x="1374" y="1857" width="12" height="120"/>
<rect x="1398" y="1870" width="12" height="107"/>
<rect x="1421" y="1882" width="13" height="95"/>
<rect x="1445" y="1892" width="12" height="85"/>
<rect x="1469" y="1896" width="12" height="81"/>
<rect x="1493" y="1892" width="12" height="85"/>
<rect x="1516" y="1875" width="13" height="102"/>
<rect x="1540" y="1843" width="12" height="134"/>
<rect x="1564" y="1796" width="12" height="181"/>
<rect x="1587" y="1736" width="13" height="241"/>
<rect x="1611" y="1665" width="13" height="312"/>
<rect x="1635" y="1592" width="12" height="385"/>
<rect x="1659" y="1525" width="12" height="452"/>
<rect x="1682" y="1473" width="13" height="504"/>
<rect x="1706" y="1448" width="12" height="529"/>
<rect x="1730" y="1458" width="12" height="519"/>
<rect x="1754" y="1508" width="12" height="469"/>
<rect x="1777" y="1597" width="13" height="380"/>
<rect x="1801" y="1714" width="12" height="263"/>
<rect x="1825" y="1850" width="12" height="127"/>
</g>
<g fill="#7000dc">
<rect x="377" y="2623" width="13" height="2"/>
<rect x="401" y="2593" width="13" height="32"/>
<rect x="425" y="2570" width="12" height="55"/>
<rect x="449" y="2548" width="12" height="77"/>
<rect x="472" y="2528" width="13" height="97"/>
<rect x="496" y="2512" width="12" height="113"/>
<rect x="520" y="2502" width="12" height="123"/>
<rect x="544" y="2497" width="12" height="128"/>
<rect x="567" y="2498" width="13" height="127"/>
<rect x="591" y="2504" width="12" height="121"/>
<rect x="615" y="2514" width="12" height="111"/>
<rect x="638" y="2525" width="13" height="100"/>
<rect x="662" y="2537" width="13" height="88"/>
<rect x="686" y="2546" width="12" height="79"/>
<rect x="710" y="2548" width="12" height="77"/>
<rect x="733" y="2544" width="13" height="81"/>
<rect x="757" y="2534" width="12" height="91"/>
<rect x="781" y="2514" width="12" height="111"/>
<rect x="805" y="2491" width="12" height="134"/>
<rect x="828" y="2464" width="13" height="161"/>
<rect x="852" y="2438" width="12" height="187"/>
<rect x="876" y="2415" width="12" height="210"/>
<rect x="899" y="2399" width="13" height="226"/>
<rect x="923" y="2390" width="13" height="235"/>
<rect x="947" y="2389" width="12" height="236"/>
<rect x="971" y="2398" width="12" height="227"/>
<rect x="994" y="2413" width="13" height="212"/>
<rect x="1018" y="2435" width="12" height="190"/>
<rect x="1042" y="2460" width="12" height="165"/>
<rect x="1065" y="2487" width="13" height="138"/>
<rect x="1089" y="2514" width="13" height="111"/>
<rect x="1113" y="2536" width="12" height="89"/>
<rect x="1137" y="2556" width="12" height="69"/>
<rect x="1160" y="2570" width="13" height="55"/>
<rect x="1184" y="2578" width="13" height="47"/>
<rect x="1208" y="2581" width="12" height="44"/>
<rect x="1232" y="2581" width="12" height="44"/>
<rect x="1255" y="2577" width="13" height="48"/>
<rect x="1279" y="2571" width="12" height="54"/>
<rect x="1303" y="2564" width="12" height="61"/>
<rect x="1326" y="2556" width="13" height="69"/>
<rect x="1350" y="2550" width="13" height="75"/>
<rect x="1374" y="2546" width="12" height="79"/>
<rect x="1398" y="2542" width="12" height="83"/>
<rect x="1421" y="2542" width="13" height="83"/>
<rect x="1445" y="2544" width="12" height="81"/>
<rect x="1469" y="2545" width="12" height="80"/>
<rect x="1493" y="2544" width="12" height="81"/>
<rect x="1516" y="2538" width="13" height="87"/>
<rect x="1540" y="2522" width="12" height="103"/>
<rect x="1564" y="2496" width="12" height="129"/>
<rect x="1587" y="2454" width="13" height="171"/>
<rect x="1611" y="2396" width="13" height="229"/>
<rect x="1635" y="2327" width="12" height="298"/>
<rect x="1659" y="2251" width="12" height="374"/>
<rect x="1682" y="2177" width="13" height="448"/>
<rect x="1706" y="2118" width="12" height="507"/>
<rect x="1730" y="2086" width="12" height="539"/>
<rect x="1754" y="2089" width="12" height="536"/>
<rect x="1777" y="2138" width="13" height="487"/>
<rect x="1801" y="2232" width="12" height="393"/>
<rect x="1825" y="2360" width="12" height="265"/>
<rect x="1848" y="2519" width="13" height="106"/>
<rect x="1872" y="2618" width="13" height="7"/>
</g>
<g fill="#0000ff">
<rect x="401" y="3250" width="13" height="23"/>
<rect x="425" y="3236" width="12" height="37"/>
<rect x="449" y="3220" width="12" height="53"/>
<rect x="472" y="3207" width="13" height="66"/>
<rect x="496" y="3198" width="12" height="75"/>
<rect x="520" y="3191" width="12" height="82"/>
<rect x="544" y="3188" width="12" height="85"/>
<rect x="567" y="3188" width="13" height="85"/>
<rect x="591" y="3191" width="12" height="82"/>
<rect x="615" y="3197" width="12" height="76"/>
<rect x="638" y="3203" width="13" height="70"/>
<rect x="662" y="3208" width="13" height="65"/>
<rect x="686" y="3211" width="12" height="62"/>
<rect x="710" y="3211" width="12" height="62"/>
<rect x="733" y="3206" width="13" height="67"/>
<rect x="757" y="3198" width="12" height="75"/>
<rect x="781" y="3186" width="12" height="87"/>
<rect x="805" y="3175" width="12" height="98"/>
<rect x="828" y="3164" width="13" height="109"/>
<rect x="852" y="3157" width="12" height="116"/>
<rect x="876" y="3155" width="12" height="118"/>
<rect x="899" y="3157" width="13" height="116"/>
<rect x="923" y="3164" width="13" height="109"/>
<rect x="947" y="3174" width="12" height="99"/>
<rect x="971" y="3187" width="12" height="86"/>
<rect x="994" y="3201" width="13" height="72"/>
<rect x="1018" y="3214" width="12" height="59"/>
<rect x="1042" y="3227" width="12" height="46"/>
<rect x="1065" y="3237" width="13" height="36"/>
<rect x="1089" y="3244" width="13" height="29"/>
<rect x="1113" y="3249" width="12" height="24"/>
<rect x="1137" y="3250" width="12" height="23"/>
<rect x="1160" y="3249" width="13" height="24"/>
<rect x="1184" y="3246" width="13" height="27"/>
<rect x="1208" y="3242" width="12" height="31"/>
<rect x="1232" y="3237" width="12" height="36"/>
<rect x="1255" y="3232" width="13" height="41"/>
<rect x="1279" y="3229" width="12" height="44"/>
<rect x="1303" y="3227" width="12" height="46"/>
<rect x="1326" y="3227" width="13" height="46"/>
<rect x="1350" y="3229" width="13" height="44"/>
<rect x="1374" y="3233" width="12" height="40"/>
<rect x="1398" y="3237" width="12" height="36"/>
<rect x="1421" y="3240" width="13" height="33"/>
<rect x="1445" y="3239" width="12" height="34"/>
<rect x="1469" y="3231" width="12" height="42"/>
<rect x="1493" y="3214" width="12" height="59"/>
<rect x="1516" y="3184" width="13" height="89"/>
<rect x="1540" y="3139" width="12" height="134"/>
<rect x="1564" y="3080" width="12" height="193"/>
<rect x="1587" y="3010" width="13" height="263"/>
<rect x="1611" y="2933" width="13" height="340"/>
<rect x="1635" y="2854" width="12" height="419"/>
<rect x="1659" y="2783" width="12" height="490"/>
<rect x="1682" y="2726" width="13" height="547"/>
<rect x="1706" y="2692" width="12" height="581"/>
<rect x="1730" y="2683" width="12" height="590"/>
<rect x="1754" y="2702" width="12" height="571"/>
<rect x="1777" y="2744" width="13" height="529"/>
<rect x="1801" y="2805" width="12" height="468"/>
<rect x="1825" y="2876" width="12" height="397"/>
<rect x="1848" y="2951" width="13" height="322"/>
<rect x="1872" y="3022" width="13" height="251"/>
<rect x="1896" y="3091" width="12" height="182"/>
<rect x="1920" y="3155" width="12" height="118"/>
<rect x="1943" y="3206" width="13" height="67"/>
<rect x="1967" y="3229" width="12" height="44"/>
<rect x="1991" y="3233" width="12" height="40"/>
<rect x="2014" y="3237" width="13" height="36"/>
<rect x="2038" y="3242" width="13" height="31"/>
<rect x="2062" y="3247" width="12" height="26"/>
<rect x="2086" y="3253" width="12" height="20"/>
<rect x="2109" y="3259" width="13" height="14"/>
<rect x="2133" y="3263" width="13" height="10"/>
<rect x="2157" y="3270" width="12" height="3"/>
<rect x="2181" y="3272" width="12" height="1"/>
</g>
</g>
<g id="boxes">
<rect x="220" y="39" width="202" height="113"/>
<rect x="224" y="43" width="194" height="105" fill="#fff"/>
<rect x="220" y="688" width="202" height="112"/>
<rect x="224" y="692" width="194" height="104" fill="#fff"/>
<rect x="220" y="1336" width="202" height="112"/>
<rect x="224" y="1340" width="194" height="104" fill="#fff"/>
<rect x="220" y="1984" width="202" height="113"/>
<rect x="224" y="1988" width="194" height="105" fill="#fff"/>
<rect x="220" y="2632" width="202" height="112"/>
<rect x="224" y="2636" width="194" height="104" fill="#fff"/>
</g>
<g id="text" font-family="'Liberation Serif', 'Noto Serif CJK SC', serif" font-size="78" fill="#000" shape-rendering="auto" style="font-kerning:none;font-variant-ligatures:none" text-rendering="geometricPrecision">
<text x="231.5" y="120.9">HA-5</text>
<text x="231.5" y="769.9">HA-4</text>
<text x="231.5" y="1417.7">HA-3</text>
<text x="231.5" y="2066.6">HA-2</text>
<text x="231.5" y="2713.7">HA-1</text>
<text x="152.3" y="641.1" text-anchor="middle" font-size="80">1</text>
<text x="152.3" y="510.3" text-anchor="middle" font-size="80">2</text>
<text x="152.3" y="379.5" text-anchor="middle" font-size="80">3</text>
<text x="152.3" y="248.6" text-anchor="middle" font-size="80">4</text>
<text x="152.3" y="118.4" text-anchor="middle" font-size="80">5</text>
<text x="152.3" y="1288.6" text-anchor="middle" font-size="80">1</text>
<text x="152.3" y="1153.6" text-anchor="middle" font-size="80">2</text>
<text x="152.3" y="1018.6" text-anchor="middle" font-size="80">3</text>
<text x="152.3" y="883.6" text-anchor="middle" font-size="80">4</text>
<text x="152.3" y="748.6" text-anchor="middle" font-size="80">5</text>
<text x="152.3" y="1930.1" text-anchor="middle" font-size="80">1</text>
<text x="152.3" y="1783.3" text-anchor="middle" font-size="80">2</text>
<text x="152.3" y="1636.4" text-anchor="middle" font-size="80">3</text>
<text x="152.3" y="1489.6" text-anchor="middle" font-size="80">4</text>
<text x="152.3" y="2600.1" text-anchor="middle" font-size="80">1</text>
<text x="152.3" y="2497.3" text-anchor="middle" font-size="80">2</text>
<text x="152.3" y="2394.6" text-anchor="middle" font-size="80">3</text>
<text x="152.3" y="2291.8" text-anchor="middle" font-size="80">4</text>
<text x="152.3" y="2189.1" text-anchor="middle" font-size="80">5</text>
<text x="152.3" y="2086.3" text-anchor="middle" font-size="80">6</text>
<text x="152.3" y="3248.1" text-anchor="middle" font-size="80">1</text>
<text x="152.3" y="3147.0" text-anchor="middle" font-size="80">2</text>
<text x="152.3" y="3045.9" text-anchor="middle" font-size="80">3</text>
<text x="152.3" y="2944.8" text-anchor="middle" font-size="80">4</text>
<text x="152.3" y="2843.7" text-anchor="middle" font-size="80">5</text>
<text x="152.3" y="2742.6" text-anchor="middle" font-size="80">6</text>
<text x="216.6" y="3380.2" text-anchor="middle" font-size="79">0.1</text>
<text x="691.1" y="3380.2" text-anchor="middle" font-size="79">1</text>
<text x="1165.6" y="3380.2" text-anchor="middle" font-size="79">10</text>
<text x="1640.1" y="3380.2" text-anchor="middle" font-size="79">100</text>
<text x="2114.6" y="3380.2" text-anchor="middle" font-size="79">1000</text>
<text transform="translate(77.5 2038) rotate(-90)" font-weight="bold">Volume(%)</text>
<text x="1046.6" y="3494.5"><tspan font-weight="bold">Particle</tspan>(<tspan font-weight="bold" dx="1.5">μm</tspan><tspan x="1441.5">）</tspan></text>
<text x="2018.1" y="226.4" font-size="110">(a)</text>
<text x="2015.3" y="858.1" font-size="110">(b)</text>
<text x="2005.4" y="1502.3" font-size="110">(c)</text>
<text x="2016.2" y="2156.3" font-size="110">(d)</text>
<text x="2029.2" y="2815.3" font-size="110">(e)</text>
<text x="816.1" y="205.3" font-weight="bold">d<tspan font-size="52" dy="20.5">43</tspan><tspan dy="-20.5" font-size="77.6">=12.95±4.0<tspan font-size="86" dy="1.5">0</tspan></tspan><tspan font-size="76.5" dy="-1.5">μm</tspan></text>
<text x="802.0" y="846.6" font-weight="bold">d<tspan font-size="52" dy="20.5">43</tspan><tspan dy="-20.5" font-size="78">=22.32±1.34</tspan><tspan font-size="77" dy="0">μm</tspan></text>
<text x="753.8" y="1495.5" font-weight="bold">d<tspan font-size="52" dy="20.5">43</tspan><tspan dy="-20.5" font-size="78.2">=57.48±3.26</tspan><tspan font-size="78" dy="0">μm</tspan></text>
<text x="767.8" y="2154.4" font-weight="bold">d<tspan font-size="52" dy="20.5">43</tspan><tspan dy="-20.5" font-size="78.2">=90.06±4.89</tspan><tspan font-size="78" dy="0">μm</tspan></text>
<text x="753.8" y="2779.0" font-weight="bold">d<tspan font-size="52" dy="20.5">43</tspan><tspan dy="-20.5" font-size="79.8">=165.31±36.18</tspan><tspan font-size="77" dy="0">μm</tspan></text>
</g>
</svg>
</body>
</html>
